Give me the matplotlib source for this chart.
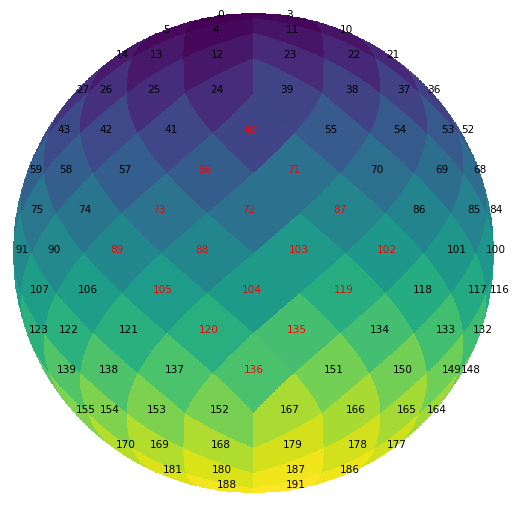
import matplotlib
matplotlib.use('Agg')
import matplotlib.pyplot as plt
import numpy as np

NSIDE = 4
GRID = 800

# map value of every HEALPix pixel, ring by ring
pixel_values = [
    0, 1, 2, 3,
    4, 5, 6, 7, 8, 9, 10, 11,
    12, 13, 14, 15, 16, 17, 18, 19, 20, 21, 22, 23,
    24, 25, 26, 27, 28, 29, 30, 31, 32, 33, 34, 35, 36, 37, 38, 39,
    40, 41, 42, 43, 44, 45, 46, 47, 48, 49, 50, 51, 52, 53, 54, 55,
    56, 57, 58, 59, 60, 61, 62, 63, 64, 65, 66, 67, 68, 69, 70, 71,
    72, 73, 74, 75, 76, 77, 78, 79, 80, 81, 82, 83, 84, 85, 86, 87,
    88, 89, 90, 91, 92, 93, 94, 95, 96, 97, 98, 99, 100, 101, 102, 103,
    104, 105, 106, 107, 108, 109, 110, 111, 112, 113, 114, 115, 116, 117, 118, 119,
    120, 121, 122, 123, 124, 125, 126, 127, 128, 129, 130, 131, 132, 133, 134, 135,
    136, 137, 138, 139, 140, 141, 142, 143, 144, 145, 146, 147, 148, 149, 150, 151,
    152, 153, 154, 155, 156, 157, 158, 159, 160, 161, 162, 163, 164, 165, 166, 167,
    168, 169, 170, 171, 172, 173, 174, 175, 176, 177, 178, 179,
    180, 181, 182, 183, 184, 185, 186, 187,
    188, 189, 190, 191,
]

black_labels = [
    0, 3, 4, 5, 10, 11, 12, 13, 14, 21, 22, 23,
    24, 25, 26, 27, 36, 37, 38, 39, 41, 42, 43, 52, 53, 54, 55,
    57, 58, 59, 68, 69, 70, 74, 75, 84, 85, 86,
    90, 91, 100, 101, 106, 107, 116, 117, 118,
    121, 122, 123, 132, 133, 134, 137, 138, 139, 148, 149, 150, 151,
    152, 153, 154, 155, 164, 165, 166, 167,
    168, 169, 170, 177, 178, 179, 180, 181, 186, 187, 188, 191,
]
red_labels = [40, 56, 71, 72, 73, 87, 88, 89, 102, 103, 104, 105, 119, 120, 135, 136]


def ang2pix(z, phi):
    """RING scheme pixel index for arrays of z and phi."""
    tt = np.mod(phi, 2 * np.pi) / (np.pi / 2)
    pix = np.zeros(z.shape, dtype=int)
    za = np.abs(z)

    eq = za <= 2 / 3
    t1 = NSIDE * (0.5 + tt[eq])
    t2 = NSIDE * z[eq] * 0.75
    jp = np.floor(t1 - t2).astype(int)
    jm = np.floor(t1 + t2).astype(int)
    ir = NSIDE + 1 + jp - jm
    kshift = 1 - (ir & 1)
    ip = np.mod((jp + jm - NSIDE + kshift + 1) // 2, 4 * NSIDE)
    pix[eq] = 2 * NSIDE * (NSIDE - 1) + (ir - 1) * 4 * NSIDE + ip

    cap = ~eq
    tp = tt[cap] - np.floor(tt[cap])
    tmp = NSIDE * np.sqrt(3 * (1 - za[cap]))
    jp = np.floor(tp * tmp).astype(int)
    jm = np.floor((1 - tp) * tmp).astype(int)
    ir = jp + jm + 1
    ip = np.mod(np.floor(tt[cap] * ir).astype(int), 4 * ir)
    north = z[cap] > 0
    pix[cap] = np.where(north, 2 * ir * (ir - 1) + ip, 12 * NSIDE**2 - 2 * ir * (ir + 1) + ip)
    return pix


def pix2ang(pix):
    """Centre of a RING pixel, returned as z and phi."""
    ncap = 2 * NSIDE * (NSIDE - 1)
    npix = 12 * NSIDE**2
    if pix < ncap:
        ring = int((1 + np.sqrt(1 + 2 * pix)) / 2)
        j = pix - 2 * ring * (ring - 1)
        return 1 - ring**2 / (3 * NSIDE**2), (j + 0.5) * np.pi / (2 * ring)
    if pix < npix - ncap:
        k = pix - ncap
        ring = k // (4 * NSIDE) + NSIDE
        j = k % (4 * NSIDE)
        shift = 0.5 if (ring - NSIDE) % 2 == 0 else 0.0
        return 4 / 3 - 2 * ring / (3 * NSIDE), (j + shift) * np.pi / (2 * NSIDE)
    k = npix - pix
    ring = int((1 + np.sqrt(2 * k - 1)) / 2)
    j = 2 * ring * (ring + 1) - k
    return -1 + ring**2 / (3 * NSIDE**2), (j + 0.5) * np.pi / (2 * ring)


# orthographic view, longitude growing to the left
edges = (np.arange(GRID) + 0.5) / GRID * 2 - 1
xx, yy = np.meshgrid(edges, edges)
inside = xx**2 + yy**2 <= 1
depth = np.sqrt(np.where(inside, 1 - xx**2 - yy**2, 0))
index = ang2pix(yy[inside], np.arctan2(-xx[inside], depth[inside]))
image = np.ma.masked_all((GRID, GRID))
image[inside] = np.asarray(pixel_values)[index]

fig = plt.figure(figsize=(521 / 72, 506 / 72), dpi=72)
ax = fig.add_axes([13 / 521, 13 / 506, 480 / 521, 480 / 506])
ax.imshow(image, origin='lower', extent=(-1, 1, -1, 1), cmap='viridis',
          vmin=0, vmax=191, interpolation='nearest', aspect='auto')
ax.set_xlim(-1, 1)
ax.set_ylim(-1, 1)
ax.axis('off')

for labels, color in ((black_labels, 'black'), (red_labels, 'red')):
    for pix in labels:
        z, phi = pix2ang(pix)
        sin_t = np.sqrt(1 - z**2)
        x = -sin_t * np.sin(phi)
        d = sin_t * np.cos(phi)
        # labels sit left of the centre, more so toward the middle of the disc
        ax.text(x - 11 / 240 * d, z + 2.8 / 240, str(pix), color=color, fontsize=10.5,
                ha='left', va='center', clip_on=False)

fig.savefig('out.png', dpi=72)
